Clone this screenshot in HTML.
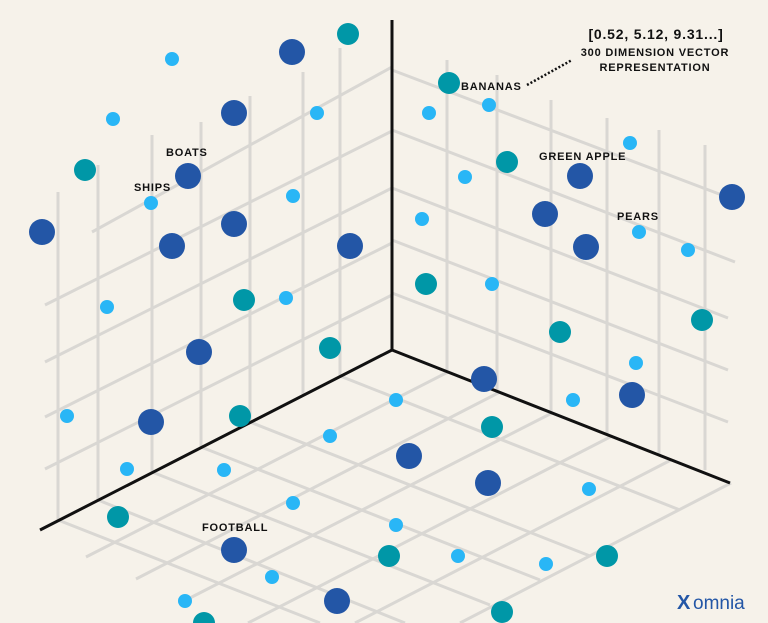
<!DOCTYPE html>
<html><head><style>
html,body{margin:0;padding:0;background:#f6f2ea;width:768px;height:623px;overflow:hidden;}
svg{display:block;overflow:hidden;}
text{font-family:"Liberation Sans",sans-serif;font-weight:bold;fill:#111;}
</style></head><body>
<svg width="768" height="623" viewBox="0 0 768 623" xmlns="http://www.w3.org/2000/svg">
<rect width="768" height="623" fill="#f6f2ea"/>
<g stroke="#d9d7d3" stroke-width="3" fill="none">
<line x1="58" y1="192" x2="58" y2="520"/>
<line x1="98" y1="165" x2="98" y2="500"/>
<line x1="152" y1="135" x2="152" y2="472"/>
<line x1="201" y1="122" x2="201" y2="447"/>
<line x1="250" y1="96" x2="250" y2="422"/>
<line x1="303" y1="72" x2="303" y2="395"/>
<line x1="340" y1="48" x2="340" y2="376"/>
<line x1="92" y1="232" x2="392" y2="67"/>
<line x1="45" y1="305" x2="392" y2="131"/>
<line x1="45" y1="362" x2="392" y2="188"/>
<line x1="45" y1="417" x2="392" y2="243"/>
<line x1="45" y1="469" x2="392" y2="295"/>
<line x1="447" y1="60" x2="447" y2="370"/>
<line x1="497" y1="75" x2="497" y2="392"/>
<line x1="551" y1="100" x2="551" y2="412"/>
<line x1="607" y1="118" x2="607" y2="435"/>
<line x1="659" y1="130" x2="659" y2="455"/>
<line x1="705" y1="145" x2="705" y2="470"/>
<line x1="392" y1="70" x2="735" y2="200"/>
<line x1="392" y1="130" x2="735" y2="262"/>
<line x1="392" y1="188" x2="728" y2="318"/>
<line x1="392" y1="240" x2="728" y2="370"/>
<line x1="392" y1="293" x2="728" y2="422"/>
<line x1="340" y1="376" x2="680" y2="510"/>
<line x1="250" y1="422" x2="590" y2="556"/>
<line x1="201" y1="447" x2="540" y2="580"/>
<line x1="152" y1="472" x2="490" y2="605"/>
<line x1="98" y1="500" x2="405" y2="623"/>
<line x1="58" y1="520" x2="320" y2="623"/>
<line x1="448" y1="372" x2="86" y2="557"/>
<line x1="500" y1="392" x2="136" y2="579"/>
<line x1="552" y1="413" x2="186" y2="600"/>
<line x1="612" y1="436" x2="248" y2="623"/>
<line x1="671" y1="460" x2="355" y2="623"/>
<line x1="731" y1="483" x2="460" y2="623"/>
</g>
<g stroke="#111" stroke-width="3" fill="none">
<line x1="392" y1="20" x2="392" y2="350"/>
<line x1="392" y1="350" x2="40" y2="530"/>
<line x1="392" y1="350" x2="730" y2="483"/>
</g>
<line x1="527" y1="85" x2="572" y2="60" stroke="#111" stroke-width="2.5" stroke-dasharray="2,2"/>
<g fill="#2356a6">
<circle cx="292" cy="52" r="13"/><circle cx="234" cy="113" r="13"/><circle cx="188" cy="176" r="13"/><circle cx="42" cy="232" r="13"/><circle cx="172" cy="246" r="13"/><circle cx="234" cy="224" r="13"/><circle cx="350" cy="246" r="13"/><circle cx="199" cy="352" r="13"/><circle cx="151" cy="422" r="13"/><circle cx="580" cy="176" r="13"/><circle cx="545" cy="214" r="13"/><circle cx="586" cy="247" r="13"/><circle cx="732" cy="197" r="13"/><circle cx="484" cy="379" r="13"/><circle cx="632" cy="395" r="13"/><circle cx="409" cy="456" r="13"/><circle cx="488" cy="483" r="13"/><circle cx="234" cy="550" r="13"/><circle cx="337" cy="601" r="13"/>
</g>
<g fill="#0097a7">
<circle cx="348" cy="34" r="11"/><circle cx="85" cy="170" r="11"/><circle cx="244" cy="300" r="11"/><circle cx="330" cy="348" r="11"/><circle cx="240" cy="416" r="11"/><circle cx="449" cy="83" r="11"/><circle cx="507" cy="162" r="11"/><circle cx="426" cy="284" r="11"/><circle cx="560" cy="332" r="11"/><circle cx="702" cy="320" r="11"/><circle cx="492" cy="427" r="11"/><circle cx="118" cy="517" r="11"/><circle cx="389" cy="556" r="11"/><circle cx="607" cy="556" r="11"/><circle cx="502" cy="612" r="11"/><path d="M193 623 A11 11 0 0 1 215 623 Z"/>
</g>
<g fill="#29b6f6">
<circle cx="172" cy="59" r="7"/><circle cx="113" cy="119" r="7"/><circle cx="317" cy="113" r="7"/><circle cx="151" cy="203" r="7"/><circle cx="293" cy="196" r="7"/><circle cx="107" cy="307" r="7"/><circle cx="286" cy="298" r="7"/><circle cx="67" cy="416" r="7"/><circle cx="127" cy="469" r="7"/><circle cx="224" cy="470" r="7"/><circle cx="330" cy="436" r="7"/><circle cx="396" cy="400" r="7"/><circle cx="429" cy="113" r="7"/><circle cx="489" cy="105" r="7"/><circle cx="630" cy="143" r="7"/><circle cx="465" cy="177" r="7"/><circle cx="422" cy="219" r="7"/><circle cx="639" cy="232" r="7"/><circle cx="688" cy="250" r="7"/><circle cx="492" cy="284" r="7"/><circle cx="636" cy="363" r="7"/><circle cx="573" cy="400" r="7"/><circle cx="589" cy="489" r="7"/><circle cx="293" cy="503" r="7"/><circle cx="396" cy="525" r="7"/><circle cx="458" cy="556" r="7"/><circle cx="546" cy="564" r="7"/><circle cx="272" cy="577" r="7"/><circle cx="185" cy="601" r="7"/>
</g>
<g font-size="11" letter-spacing="0.8">
<text x="166" y="156">BOATS</text>
<text x="134" y="191">SHIPS</text>
<text x="461" y="90">BANANAS</text>
<text x="539" y="160">GREEN APPLE</text>
<text x="617" y="220">PEARS</text>
<text x="202" y="531">FOOTBALL</text>
<text x="655" y="56" text-anchor="middle">300 DIMENSION VECTOR</text>
<text x="655" y="71" text-anchor="middle">REPRESENTATION</text>
</g>
<text x="656" y="39" font-size="14" text-anchor="middle" letter-spacing="0.8">[0.52, 5.12, 9.31...]</text>
<text x="677" y="609" font-size="20" style="fill:#2356a6;font-weight:bold">X</text>
<text x="693" y="609" font-size="19" style="fill:#2356a6;font-weight:normal">omnia</text>
</svg>
</body></html>
